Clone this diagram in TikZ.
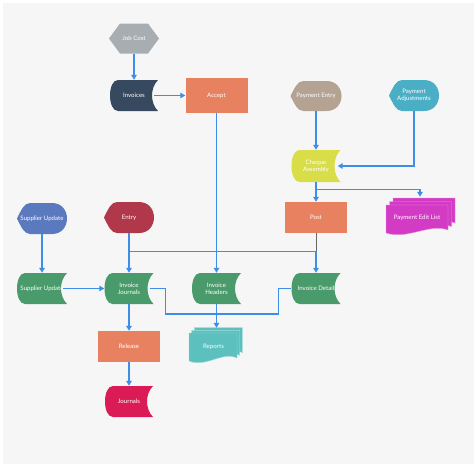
\documentclass[tikz,border=0pt]{standalone}
\usepackage{fontspec}
\setmainfont{Lato}
\usetikzlibrary{arrows.meta,calc}
\definecolor{bgc}{HTML}{F6F6F6}
\definecolor{lineblue}{HTML}{3C8EE8}
\definecolor{cgray}{HTML}{A7ADB0}
\definecolor{cnavy}{HTML}{36495F}
\definecolor{corange}{HTML}{E8815F}
\definecolor{ctan}{HTML}{B4A293}
\definecolor{cteal}{HTML}{4AAFC4}
\definecolor{cyellow}{HTML}{D8DD48}
\definecolor{cmagenta}{HTML}{D43BC5}
\definecolor{cblue}{HTML}{5B79BF}
\definecolor{cred}{HTML}{B0384A}
\definecolor{cgreen}{HTML}{4A9B6B}
\definecolor{creports}{HTML}{5BC0BE}
\definecolor{ccrimson}{HTML}{DB1B55}
\newcommand{\docshape}[5]{%
  \filldraw[fill=#5, draw=white!45!#5, line width=0.4pt]
    (#1,#2) -- (#3,#2) -- (#3,{#4-3})
    .. controls ({#3-0.3*(#3-#1)},{#4-10}) and ({#1+0.35*(#3-#1)},{#4+7}) .. (#1,#4) -- cycle;}
\tikzset{
  lbl/.style={font=\fontsize{6.1}{7.1}\selectfont, text=white, align=center, inner sep=0pt},
  conn/.style={draw=lineblue, line width=1.4pt},
  arr/.style={conn, -{Triangle[length=5pt,width=5.5pt]}},
  sd/.style={lbl, minimum width=49pt, minimum height=31pt, path picture={
    \fill[#1] let \p1=(path picture bounding box.south west), \p2=(path picture bounding box.north east) in
      (\x1+8pt,\y1) -- (\x2,\y1) .. controls (\x2-8pt,\y1+8pt) and (\x2-8pt,\y2-8pt) .. (\x2,\y2)
      -- (\x1+8pt,\y2) .. controls (\x1-2.67pt,\y2) and (\x1-2.67pt,\y1) .. (\x1+8pt,\y1) -- cycle;}},
  disp/.style={lbl, minimum width=50pt, minimum height=31pt, path picture={
    \fill[#1] let \p1=(path picture bounding box.south west), \p2=(path picture bounding box.north east) in
      (\x1,0.5*\y1+0.5*\y2) .. controls (\x1+4pt,0.5*\y1+0.5*\y2+8pt) and (\x1+7pt,\y2) .. (\x1+13pt,\y2)
      -- (\x2-15pt,\y2) .. controls (\x2+5pt,\y2) and (\x2+5pt,\y1) .. (\x2-15pt,\y1)
      -- (\x1+13pt,\y1) .. controls (\x1+7pt,\y1) and (\x1+4pt,0.5*\y1+0.5*\y2-8pt) .. (\x1,0.5*\y1+0.5*\y2) -- cycle;}},
  hexa/.style={lbl, minimum width=50pt, minimum height=30pt, path picture={
    \fill[#1] let \p1=(path picture bounding box.south west), \p2=(path picture bounding box.north east) in
      (\x1,0.5*\y1+0.5*\y2) -- (\x1+11pt,\y2) -- (\x2-11pt,\y2) -- (\x2,0.5*\y1+0.5*\y2)
      -- (\x2-11pt,\y1) -- (\x1+11pt,\y1) -- cycle;}},
  proc/.style={lbl, fill=corange, minimum width=62pt, minimum height=31pt},
  mdoc/.style={lbl}
}
\begin{document}
\begin{tikzpicture}[x=1pt,y=-1pt]
\useasboundingbox (0,0) rectangle (474,467);
\fill[white] (0,0) rectangle (474,467);
\fill[bgc] (3,3) rectangle (474,464);

% multi-document layers
\docshape{393}{198}{455}{226}{cmagenta}
\docshape{389.5}{201.5}{451.5}{229.5}{cmagenta}
\docshape{386}{205}{448}{233}{cmagenta}
\docshape{194.4}{327.6}{242.4}{355.6}{creports}
\docshape{191.7}{330.3}{239.7}{358.3}{creports}
\docshape{189}{333}{237}{361}{creports}

% nodes
\node[hexa=cgray] (jobcost) at (134,38.5) {Job Cost};
\node[sd=cnavy, minimum width=48pt] (invoices) at (134,95.5) {Invoices};
\node[proc, minimum height=35pt] (accept) at (216.5,95.5) {Accept};
\node[disp=ctan, minimum width=51pt, minimum height=30pt] (payent) at (316,96) {Payment Entry};
\node[disp=cteal, minimum height=31pt] (payadj) at (414,95.5) {Payment\\Adjustments};
\node[sd=cyellow, minimum height=32pt] (cheque) at (316,166) {Cheque\\Assembly};
\node[proc] (post) at (316,217.5) {Post};
\node[mdoc, minimum width=62pt, minimum height=28pt] (pel) at (417,218) {Payment Edit List};
\node[disp=cblue] (supdisp) at (42,218.5) {Supplier Update};
\node[disp=cred] (entry) at (129,217.5) {Entry};
\node[sd=cgreen, minimum width=50pt] (supsd) at (42,288.5) {Supplier Update};
\node[sd=cgreen] (invjour) at (129,288.5) {Invoice\\Journals};
\node[sd=cgreen] (invhead) at (216.5,288.5) {Invoice\\Headers};
\node[sd=cgreen] (invdet) at (316,288.5) {Invoice Detail};
\node[mdoc, minimum width=48pt, minimum height=28pt] (rep) at (213.5,347) {Reports};
\node[proc] (release) at (129,346.5) {Release};
\node[sd=ccrimson, minimum width=48pt] (journals) at (129,401.5) {Journals};

% junction coordinates
\coordinate (jE) at (129,251.7);
\coordinate (jD) at (316,251.7);
\coordinate (jC) at (316,189.5);
\coordinate (jP) at (420,189.5);
\coordinate (jA) at (414,166);
\coordinate (r1) at (165.5,288.5);
\coordinate (r2) at (165.5,314);
\coordinate (r3) at (278.5,314);
\coordinate (r4) at (278.5,288.5);

% connectors
\draw[arr] (jobcost.south) -- (invoices.north);
\draw[arr] ([xshift=-4pt]invoices.east) -- (accept.west);
\draw[arr] (accept.south) -- (invhead.north);
\draw[arr] (payent.south) -- (cheque.north);
\draw[arr] (payadj.south) -- (jA) -- ([xshift=-3pt]cheque.east);
\draw[arr] (cheque.south) -- (post.north);
\draw[arr] (jC) -- (jP) -- ($(pel.north)+(3,-7)$);
\draw[draw=black!60, line width=1pt] (post.south) -- (jD);
\draw[arr] (entry.south) -- (invjour.north);
\draw[arr] (jE) -- (jD) -- (invdet.north);
\draw[arr] (supdisp.south) -- (supsd.north);
\draw[arr] ([xshift=-4pt]supsd.east) -- (invjour.west);
\draw[conn] ([xshift=-4pt]invjour.east) -- (r1) -- (r2) -- (r3) -- (r4) -- (invdet.west);
\draw[arr] (invhead.south) -- ($(rep.north)+(3,-5)$);
\draw[arr] (invjour.south) -- (release.north);
\draw[arr] (release.south) -- (journals.north);
\end{tikzpicture}
\end{document}
